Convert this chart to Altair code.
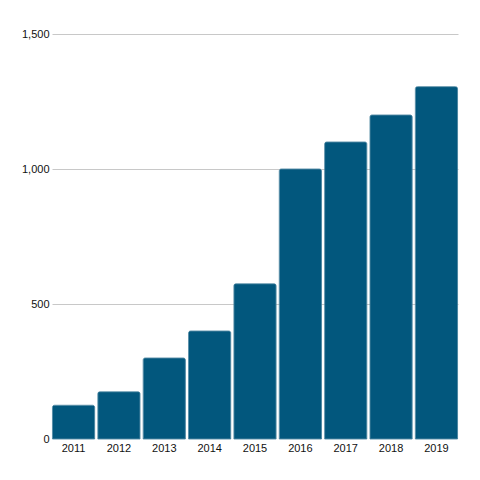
import altair as alt
import pandas as pd

years = ["2011", "2012", "2013", "2014", "2015", "2016", "2017", "2018", "2019"]
values = [125, 175, 300, 400, 575, 1000, 1100, 1200, 1305]

df = pd.DataFrame({"year": years, "value": values})

bars = alt.Chart(df).mark_bar(
    color="#02577d",
    stroke="#3d7c99",
    strokeWidth=0.8,
    cornerRadiusTopLeft=2,
    cornerRadiusTopRight=2,
).encode(
    x=alt.X("year:N", sort=years, title=None,
            scale=alt.Scale(paddingInner=0.07, paddingOuter=0.01),
            axis=alt.Axis(labelAngle=0, ticks=False, domain=False, grid=False,
                          labelFontSize=11, labelColor="#111", labelPadding=3,
                          labelFont="Liberation Sans")),
    y=alt.Y("value:Q", title=None,
            scale=alt.Scale(domain=[0, 1500], nice=False),
            axis=alt.Axis(values=[0, 500, 1000, 1500], format=",.0f", ticks=False,
                          domain=False, labelFontSize=11, labelColor="#111",
                          labelPadding=3, labelFont="Liberation Sans",
                          gridColor="#c8c8c8", gridWidth=1,
                          gridOpacity=alt.condition("datum.value == 0", alt.value(0), alt.value(1)))),
).properties(
    width=406,
    height=405,
    padding={"left": 44, "top": 26, "right": 14, "bottom": 20},
    autosize=alt.AutoSizeParams(type="none"),
).configure_view(stroke=None)

bars.save("out.html", embed_options={"renderer": "svg", "actions": False})
